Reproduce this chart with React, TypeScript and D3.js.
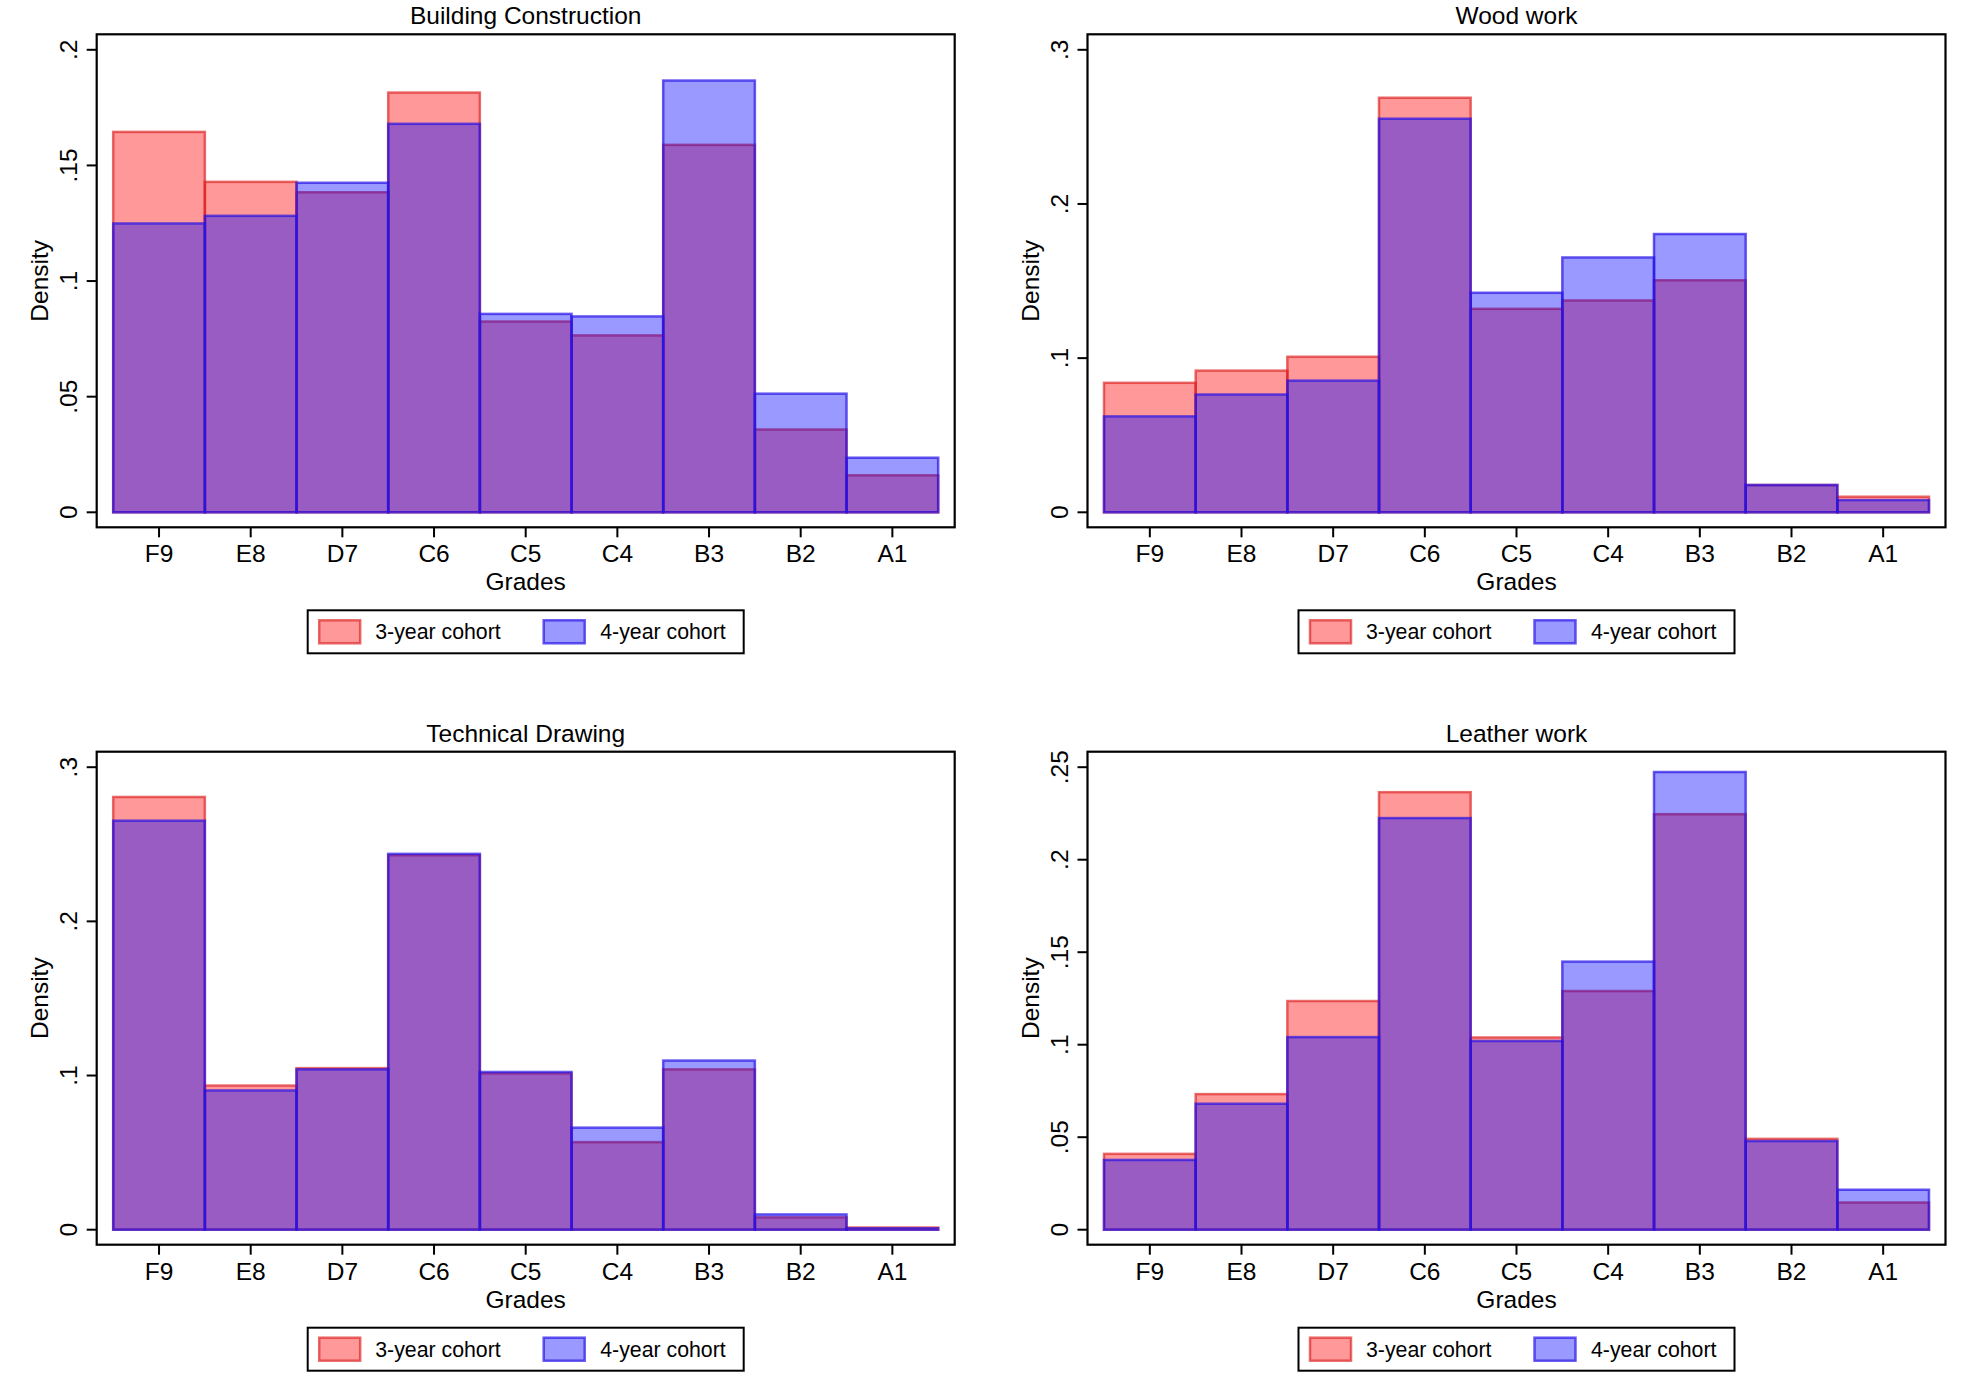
import { scaleBand, scaleLinear } from "d3";

const GRADES = ["F9", "E8", "D7", "C6", "C5", "C4", "B3", "B2", "A1"];

// density per grade, 3-year vs 4-year cohort
const BUILD_3 = [0.1645, 0.1429, 0.1384, 0.1815, 0.0825, 0.0765, 0.1589, 0.0358, 0.016];
const BUILD_4 = [0.1249, 0.1282, 0.1425, 0.168, 0.0858, 0.0847, 0.1867, 0.0513, 0.0236];
const WOOD_3 = [0.084, 0.0919, 0.1009, 0.2689, 0.132, 0.1374, 0.1505, 0.0177, 0.0101];
const WOOD_4 = [0.0622, 0.0764, 0.0854, 0.2553, 0.1424, 0.1653, 0.1805, 0.0177, 0.0079];
const TECH_3 = [0.2807, 0.0935, 0.1048, 0.2429, 0.1014, 0.0568, 0.104, 0.008, 0.0014];
const TECH_4 = [0.2653, 0.0903, 0.104, 0.2438, 0.1023, 0.0662, 0.1097, 0.0099, 0.0009];
const LEATHER_3 = [0.041, 0.0733, 0.1236, 0.2365, 0.1039, 0.129, 0.2246, 0.0491, 0.0147];
const LEATHER_4 = [0.0377, 0.0681, 0.1041, 0.2225, 0.102, 0.1449, 0.2474, 0.0479, 0.0216];

const TICKS_BUILD = [0, 0.05, 0.1, 0.15, 0.2];
const TICKS_WOOD = [0, 0.1, 0.2, 0.3];
const TICKS_TECH = [0, 0.1, 0.2, 0.3];
const TICKS_LEATHER = [0, 0.05, 0.1, 0.15, 0.2, 0.25];

const COHORTS = ["3-year cohort", "4-year cohort"];

const FONT = "'Liberation Sans', Arial, Helvetica, sans-serif";
const RED_FILL = "rgba(255,0,0,0.4)";
const RED_LINE = "rgba(220,30,30,0.65)";
const BLUE_FILL = "rgba(0,0,255,0.4)";
const BLUE_LINE = "rgba(40,20,230,0.7)";

const W = 858, H = 493;
const PAD_X = 16.5, PAD_TOP = 15.5, PAD_BOTTOM = 15;
const FS = 24.5;

const fmt = (t: number) => (t === 0 ? "0" : String(+t.toFixed(2)).replace(/^0\./, "."));

function Panel({ x, y, title, a, b, ticks }:
  { x: number; y: number; title: string; a: number[]; b: number[]; ticks: number[] }) {
  const sx = scaleBand().domain(GRADES).range([PAD_X, W - PAD_X]).padding(0);
  const sy = scaleLinear().domain([0, ticks[ticks.length - 1]]).range([H - PAD_BOTTOM, PAD_TOP]);
  const bw = sx.bandwidth();
  const lgX = W / 2 - 218;
  return (
    <g transform={`translate(${x},${y})`} fontFamily={FONT}>
      <text x={W / 2} y={-10} textAnchor="middle" fontSize={FS}>{title}</text>
      {a.map((v, i) => (
        <rect key={"a" + i} x={sx(GRADES[i])} y={sy(v)} width={bw} height={sy(0) - sy(v)}
          fill={RED_FILL} stroke={RED_LINE} strokeWidth={2.5} />
      ))}
      {b.map((v, i) => (
        <rect key={"b" + i} x={sx(GRADES[i])} y={sy(v)} width={bw} height={sy(0) - sy(v)}
          fill={BLUE_FILL} stroke={BLUE_LINE} strokeWidth={2.5} />
      ))}
      <rect width={W} height={H} fill="none" stroke="#000" strokeWidth={2.2} />
      {ticks.map(t => (
        <g key={t} transform={`translate(0,${sy(t)})`}>
          <line x1={-10} x2={0} stroke="#000" strokeWidth={2} />
          <text transform="translate(-28,0) rotate(-90)" textAnchor="middle" dominantBaseline="central"
            fontSize={FS}>{fmt(t)}</text>
        </g>
      ))}
      {GRADES.map(g => (
        <g key={g} transform={`translate(${(sx(g) ?? 0) + bw / 2},${H})`}>
          <line y2={10} stroke="#000" strokeWidth={2} />
          <text y={35} textAnchor="middle" fontSize={FS}>{g}</text>
        </g>
      ))}
      <text x={W / 2} y={H + 63} textAnchor="middle" fontSize={FS}>Grades</text>
      <text transform={`translate(-57,${H / 2}) rotate(-90)`} textAnchor="middle" dominantBaseline="central"
        fontSize={FS}>Density</text>
      <g transform={`translate(${lgX},${H + 83})`}>
        <rect width={436} height={43} fill="#fff" stroke="#000" strokeWidth={2} />
        <rect x={11.5} y={10} width={41} height={23} fill={RED_FILL} stroke={RED_LINE} strokeWidth={2.5} />
        <text x={67.5} y={22} dominantBaseline="central" fontSize={21.3}>{COHORTS[0]}</text>
        <rect x={236} y={10} width={41} height={23} fill={BLUE_FILL} stroke={BLUE_LINE} strokeWidth={2.5} />
        <text x={292.5} y={22} dominantBaseline="central" fontSize={21.3}>{COHORTS[1]}</text>
      </g>
    </g>
  );
}

export default function App() {
  return (
    <svg width={1969} height={1388} style={{ position: "absolute", left: 0, top: 0, background: "#fff" }}>
      <rect width={1969} height={1388} fill="#fff" />
      <Panel x={96.7} y={34.3} title="Building Construction" a={BUILD_3} b={BUILD_4} ticks={TICKS_BUILD} />
      <Panel x={1087.5} y={34.3} title="Wood work" a={WOOD_3} b={WOOD_4} ticks={TICKS_WOOD} />
      <Panel x={96.7} y={751.7} title="Technical Drawing" a={TECH_3} b={TECH_4} ticks={TICKS_TECH} />
      <Panel x={1087.5} y={751.7} title="Leather work" a={LEATHER_3} b={LEATHER_4} ticks={TICKS_LEATHER} />
    </svg>
  );
}
